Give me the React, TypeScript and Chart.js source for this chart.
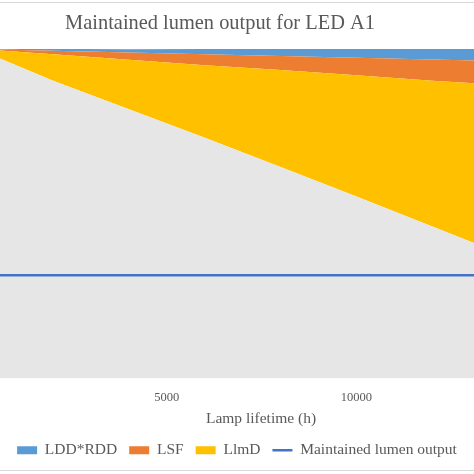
import React, { useEffect, useRef } from "react";
import { Chart, registerables } from "chart.js";

Chart.register(...registerables);

// Lamp lifetime in hours
const hours = [0, 2000, 4000, 6000, 8000, 10000, 12000, 14000];
// Remaining lumen share (%), the grey base of the stack
const remaining = [100, 90.4, 81.7, 73.1, 64.2, 55.2, 46.1, 37.0];
// Loss factors (%), stacked above the remaining share
const llmd = [0, 8.0, 15.0, 22.0, 29.4, 36.8, 44.3, 51.9];
const lsf = [0, 1.1, 2.2, 3.3, 4.3, 5.35, 6.4, 7.4];
const lddRdd = [0, 0.53, 1.06, 1.6, 2.13, 2.66, 3.2, 3.7];
// Required maintained lumen output (%)
const maintained = [31.3, 31.3, 31.3, 31.3, 31.3, 31.3, 31.3, 31.3];
// Labelled hour ticks
const tickValues = [5000, 10000];

const TITLE = "Maintained lumen output for LED A1";
const X_TITLE = "Lamp lifetime (h)";
const FONT = "'Liberation Serif', 'Times New Roman', serif";
const TEXT = "#595959";

const legendRank: Record<string, number> = {
  "LDD*RDD": 0,
  LSF: 1,
  LlmD: 2,
  "Maintained lumen output": 3,
};

const textPlugin = {
  id: "chartText",
  afterDraw(chart: Chart) {
    const ctx = chart.ctx;
    const { chartArea } = chart;
    ctx.save();
    // outer chart frame
    ctx.strokeStyle = "#d9d9d9";
    ctx.lineWidth = 1;
    ctx.beginPath();
    ctx.moveTo(0, 2.5);
    ctx.lineTo(chart.width, 2.5);
    ctx.moveTo(0, 470.5);
    ctx.lineTo(chart.width, 470.5);
    ctx.stroke();
    ctx.fillStyle = TEXT;
    ctx.textAlign = "center";
    ctx.textBaseline = "middle";
    ctx.font = `20.4px ${FONT}`;
    ctx.fillText(TITLE, 220, chartArea.top - 25);
    ctx.font = `15.5px ${FONT}`;
    ctx.fillText(X_TITLE, 261, chartArea.bottom + 40);
    ctx.restore();
  },
};

const area = (label: string, data: number[], color: string, fill: string | boolean) => ({
  label,
  data: hours.map((h, i) => ({ x: h, y: data[i] })),
  backgroundColor: color,
  borderColor: color,
  borderWidth: 0,
  pointRadius: 0,
  pointStyle: "rect",
  fill,
  tension: 0,
  order: 1,
});

export default function App() {
  const ref = useRef<HTMLCanvasElement>(null);

  useEffect(() => {
    document.body.style.margin = "0";
    const chart = new Chart(ref.current!, {
      type: "line",
      data: {
        datasets: [
          area("base", remaining, "#E7E6E6", "origin"),
          area("LlmD", llmd, "#FFC000", "-1"),
          area("LSF", lsf, "#ED7D31", "-1"),
          area("LDD*RDD", lddRdd, "#5B9BD5", "-1"),
          {
            label: "Maintained lumen output",
            data: hours.map((h, i) => ({ x: h, y: maintained[i] })),
            borderColor: "#4472C4",
            backgroundColor: "#4472C4",
            borderWidth: 2.5,
            pointRadius: 0,
            pointStyle: "line",
            fill: false,
            stack: "required",
            order: 0,
          } as any,
        ],
      },
      options: {
        animation: false,
        responsive: false,
        layout: { padding: { top: 49, bottom: 6, left: 0, right: 0 } },
        scales: {
          x: {
            type: "linear",
            min: 600,
            max: 13100,
            grid: { display: false, drawTicks: false },
            border: { display: false },
            afterBuildTicks: (axis: any) => {
              axis.ticks = tickValues.map((v) => ({ value: v }));
            },
            afterFit: (axis: any) => {
              axis.height = 52;
            },
            ticks: {
              padding: 12,
              maxRotation: 0,
              color: TEXT,
              font: { family: FONT, size: 12.5 },
              callback: (v: any) => String(v),
            },
          },
          y: {
            display: false,
            stacked: true,
            min: 0,
            max: 100,
          },
        },
        plugins: {
          title: { display: false },
          tooltip: { enabled: false },
          legend: {
            position: "bottom",
            labels: {
              usePointStyle: true,
              pointStyleWidth: 20,
              boxHeight: 8,
              padding: 12,
              color: TEXT,
              font: { family: FONT, size: 15.5 },
              filter: (item: any) => item.text !== "base",
              sort: (a: any, b: any) => legendRank[a.text] - legendRank[b.text],
            },
          },
        },
      },
      plugins: [textPlugin],
    });
    return () => chart.destroy();
  }, []);

  return <canvas ref={ref} width={474} height={474} style={{ display: "block" }} />;
}
